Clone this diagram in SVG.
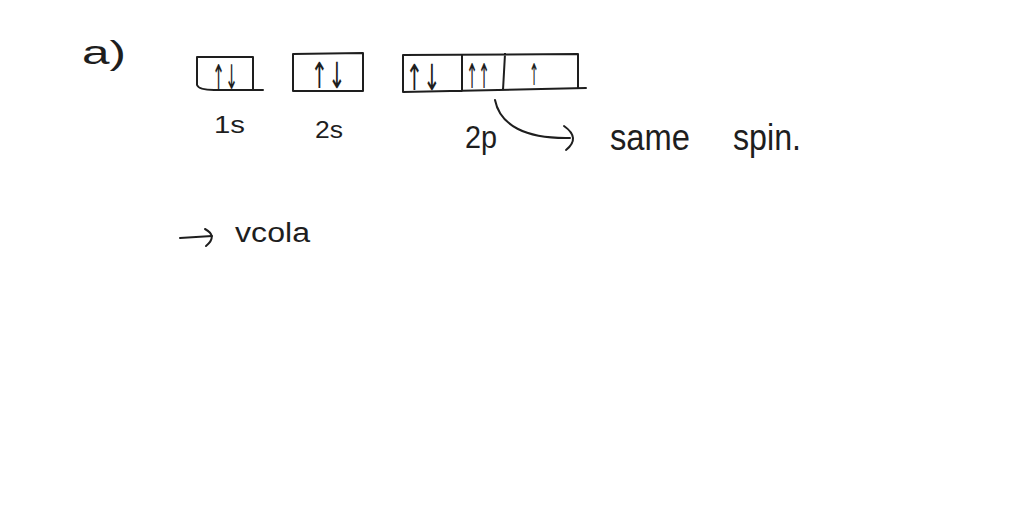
<svg xmlns="http://www.w3.org/2000/svg" width="1024" height="512" viewBox="0 0 1024 512">
<style>
.ink{fill:none;stroke:#1e1e1e;stroke-width:2;stroke-linecap:round;stroke-linejoin:round}
.t{font-family:"Liberation Sans","DejaVu Sans",sans-serif;fill:#1e1e1e}
.ar{font-family:"DejaVu Sans","Liberation Sans",sans-serif;fill:#1e1e1e;text-anchor:middle}
</style>
<rect width="1024" height="512" fill="#ffffff"/>
<g id="part-label"><text class="t" x="82" y="64" font-size="34" textLength="44" lengthAdjust="spacingAndGlyphs">a)</text></g>
<g id="orbital-1s">
<path class="ink" d="M197,57 L253,57 L253,90 M197,57 L197,85 Q199,90 214,90 L263,90"/>
<text class="ar" x="225" y="89" font-size="34" textLength="26" lengthAdjust="spacingAndGlyphs">↑↓</text>
<text class="t" x="214" y="133" font-size="24" textLength="31" lengthAdjust="spacingAndGlyphs">1s</text>
</g>
<g id="orbital-2s">
<path class="ink" d="M293,54 L363,53 L363,91 L293,91 Z"/>
<text class="ar" x="328" y="88" font-size="36" textLength="35" lengthAdjust="spacingAndGlyphs">↑↓</text>
<text class="t" x="315" y="138" font-size="24" textLength="28" lengthAdjust="spacingAndGlyphs">2s</text>
</g>
<g id="orbital-2p">
<path class="ink" d="M403,55 L578,54 M403,92 L586,88 M403,55 L403,92 M462,55 L462,91 M505,54 L503,90 M578,54 L578,88"/>
<text class="ar" x="423" y="90" font-size="36" textLength="35" lengthAdjust="spacingAndGlyphs">↑↓</text>
<text class="ar" x="478" y="88" font-size="34" textLength="24" lengthAdjust="spacingAndGlyphs">↑↑</text>
<text class="ar" x="534" y="85" font-size="30" textLength="10" lengthAdjust="spacingAndGlyphs">↑</text>
<text class="t" x="465" y="148" font-size="32" textLength="32" lengthAdjust="spacingAndGlyphs">2p</text>
</g>
<g id="note-same-spin">
<text class="t" x="610" y="150" font-size="36" textLength="80" lengthAdjust="spacingAndGlyphs">same</text>
<text class="t" x="733" y="150" font-size="36" textLength="68" lengthAdjust="spacingAndGlyphs">spin.</text>
</g>
<g id="note-viola">
<text class="t" x="235" y="242" font-size="27" textLength="75" lengthAdjust="spacingAndGlyphs">vcola</text>
</g>
<g id="connectors">
<path class="ink" d="M495,100 C500,125 525,139 570,138"/>
<path class="ink" d="M564,126 Q581,138 566,150"/>
<path class="ink" d="M180,238 L212,236"/>
<path class="ink" d="M205,229 Q218,236 206,246"/>
</g>
</svg>
